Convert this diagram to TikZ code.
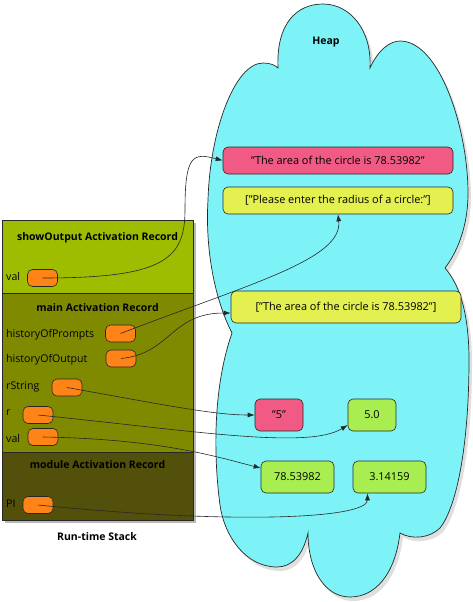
\documentclass[tikz,border=0pt]{standalone}
\usepackage{fontspec}
\setmainfont{Open Sans}
\usetikzlibrary{arrows.meta,shadows,calc}
\definecolor{heapcyan}{RGB}{125,243,247}
\definecolor{redbox}{RGB}{242,90,134}
\definecolor{yellowbox}{RGB}{228,240,80}
\definecolor{greenbox}{RGB}{168,238,80}
\definecolor{orangeP}{RGB}{255,132,24}
\definecolor{oliveA}{RGB}{158,188,0}
\definecolor{oliveB}{RGB}{128,138,0}
\definecolor{oliveC}{RGB}{82,80,10}
\definecolor{edge}{RGB}{40,40,40}
\begin{document}
\begin{tikzpicture}[x=1pt,y=-1pt,
  font=\fontsize{10.6}{12}\selectfont,
  arr/.style={draw=edge, line width=0.6pt, -{Latex[length=7pt,width=5pt]}},
  hbox/.style={draw=edge, line width=0.6pt, rounded corners=5pt, inner sep=0pt,
    font=\fontsize{10.9}{12}\selectfont},
  pill/.style={draw=edge, line width=0.6pt, fill=orangeP, rounded corners=5pt,
    minimum width=30pt, minimum height=17pt, inner sep=0pt},
  sec/.style={draw=edge, line width=0.6pt, minimum width=191pt, anchor=north west,
    inner sep=0pt, drop shadow={shadow xshift=3pt, shadow yshift=-3pt, opacity=0.55}},
  lbl/.style={anchor=west, inner sep=0pt, text height=7.5pt, text depth=2pt},
  ttl/.style={font=\bfseries\fontsize{10.5}{12}\selectfont, inner sep=0pt}]
\useasboundingbox (0,0) rectangle (473,602);

% heap cloud
\path[fill=heapcyan, draw=edge, line width=0.7pt,
  drop shadow={shadow xshift=3pt, shadow yshift=-4pt, opacity=0.25}]
 (278,68) .. controls (276,22) and (298,4) .. (323,4)
 .. controls (350,4) and (372,30) .. (370,68)
 .. controls (378,50) and (390,41) .. (400,41)
 .. controls (440,41) and (468,130) .. (468,193)
 .. controls (468,230) and (455,255) .. (445,268)
 .. controls (460,285) and (469,315) .. (469,360)
 .. controls (469,440) and (458,505) .. (440,528)
 .. controls (430,538) and (412,540) .. (400,533)
 .. controls (395,575) and (375,597) .. (350,597)
 .. controls (325,597) and (308,570) .. (308,533)
 .. controls (303,555) and (292,567) .. (277,567)
 .. controls (245,567) and (224,535) .. (220,505)
 .. controls (214,460) and (212,390) .. (232,333)
 .. controls (215,300) and (205,250) .. (208,200)
 .. controls (210,130) and (235,63) .. (263,63)
 .. controls (270,63) and (275,65) .. (278,68) -- cycle;
\node[ttl] (heap) at (326,42) {Heap};

% heap boxes
\node[hbox, fill=redbox, minimum width=230pt, minimum height=27pt] (red1) at (338,160.5) {"The area of the circle is 78.53982"};
\node[hbox, fill=yellowbox, minimum width=230pt, minimum height=27pt] (please) at (338,200.5) {["Please enter the radius of a circle:"]};
\node[hbox, fill=yellowbox, minimum width=230pt, minimum height=32pt] (ta) at (346,307) {["The area of the circle is 78.53982"]};
\node[hbox, fill=redbox, minimum width=48pt, minimum height=32pt] (five) at (279,415) {"5"};
\node[hbox, fill=greenbox, minimum width=48pt, minimum height=32pt] (fivep) at (372,415) {5.0};
\node[hbox, fill=greenbox, minimum width=73pt, minimum height=32pt] (big) at (297.5,477) {78.53982};
\node[hbox, fill=greenbox, minimum width=73pt, minimum height=32pt] (pibox) at (389.5,477) {3.14159};

% stack
\node[sec, fill=oliveA, minimum height=73pt] (showAR) at (2,220) {};
\node[sec, fill=oliveB, minimum height=159pt] (mainAR) at (2,293) {};
\node[sec, fill=oliveC, minimum height=68pt] (modAR) at (2,452) {};
\node[ttl] (t1) at (97.5,238) {showOutput Activation Record};
\node[ttl] (t2) at (97.5,308) {main Activation Record};
\node[ttl] (t3) at (97.5,465) {module Activation Record};
\node[ttl] (t4) at (97,537) {Run-time Stack};

\node[lbl] (l1) at (6,278) {val};
\node[lbl] (l2) at (6,335) {historyOfPrompts};
\node[lbl] (l3) at (6,360) {historyOfOutput};
\node[lbl] (l4) at (6,387) {rString};
\node[lbl] (l5) at (6,413) {r};
\node[lbl] (l6) at (6,440) {val};
\node[lbl] (l7) at (6,505) {PI};

\node[pill] (v1) at (42.5,278) {};
\node[pill] (hp) at (120.5,333.5) {};
\node[pill] (ho) at (121,358.5) {};
\node[pill] (rs) at (67,387.5) {};
\node[pill] (rr) at (38,415) {};
\node[pill] (vm) at (43,437) {};
\node[pill] (pI) at (38,505) {};

% connectors
\draw[arr] (v1.center) .. controls +(120,0) and +(0,50) .. (185,210)
  .. controls +(0,-55) and +(-30,-8) .. (red1.west);
\draw[arr] (hp.center) .. controls +(130,-50) and +(5,45) .. (please.south);
\draw[arr] (ho.center) .. controls +(50,-5) and +(-60,0) .. ($(ta.west)+(0,6)$);
\draw[arr] (rs.center) .. controls +(100,18) and +(-40,0) .. (five.west);
\draw[arr] (rr.center) .. controls +(150,15) and +(-40,25) .. ($(fivep.west)+(0,10)$);
\draw[arr] (vm.center) .. controls +(120,2) and +(-40,-10) .. ($(big.west)+(0,-9)$);
\draw[arr] (pI.center) .. controls +(200,20) and +(0,25) .. ($(pibox.south)+(-22,0)$);
\end{tikzpicture}
\end{document}
